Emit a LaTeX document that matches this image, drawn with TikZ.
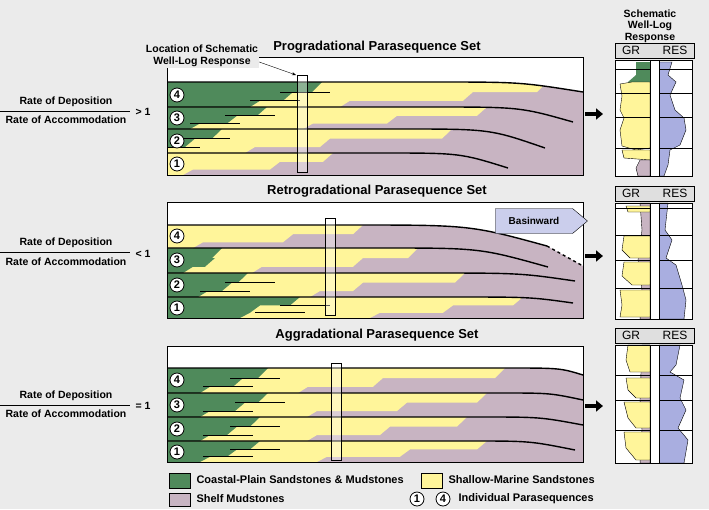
\documentclass[tikz,border=0pt]{standalone}
\usepackage{fontspec}
\setmainfont{Liberation Sans}
\usetikzlibrary{shapes.arrows,arrows.meta}
\definecolor{bg}{HTML}{EBEBEB}
\definecolor{cgreen}{HTML}{4F8A5B}
\definecolor{cyel}{HTML}{FFF59A}
\definecolor{cpur}{HTML}{C8B4C2}
\definecolor{cres}{HTML}{A9AEE0}
\newcommand\fac[6]{\fill[#1] (167,#2) -- (#6,#2) -- ({#6-10},{#2+(#3-#2)*0.4}) -- (#5,{#2+(#3-#2)*0.4}) -- ({#5-10},{#2+(#3-#2)*0.75}) -- (#4,{#2+(#3-#2)*0.75}) -- ({#4-10},#3) -- (167,#3) -- cycle;}
\newcommand\tng[4]{\draw[line width=0.8pt] ({#4-25},{#1+(#2-#1)*0.4}) -- ({#4+25},{#1+(#2-#1)*0.4}); \draw[line width=0.8pt] ({#3-25},{#1+(#2-#1)*0.75}) -- ({#3+25},{#1+(#2-#1)*0.75});}
\begin{document}
\begin{tikzpicture}[x=1pt,y=-1pt,
  ttl/.style={font=\bfseries\fontsize{13}{14}\selectfont},
  lbl/.style={font=\bfseries\fontsize{10.5}{12}\selectfont},
  leg/.style={font=\bfseries\fontsize{11}{13}\selectfont,anchor=west},
  pc/.style={circle,draw,thick,fill=white,inner sep=0pt,minimum size=14pt,font=\bfseries\fontsize{11}{11}\selectfont},
  box/.style={draw,line width=1pt},
  well/.style={draw,line width=0.7pt,fill=white,fill opacity=0.35},
  surf/.style={line width=1.4pt},
  lg/.style={font=\fontsize{12}{12}\selectfont},
  bigarr/.style={-{Triangle[length=7pt,width=11pt]},line width=4pt}]
\useasboundingbox (0,0) rectangle (709,509);
\fill[bg] (0,0) rectangle (709,509);

% ---------- Panel 1 ----------
\node[ttl] (t1) at (377,47) {Progradational Parasequence Set};
\fill[white] (167,57) rectangle (583,175);
\begin{scope}
\clip (167,82) -- (430,82) .. controls (520,82) .. (583,92) -- (583,175) -- (167,175) -- cycle;
\fill[cpur] (160,70) rectangle (590,180);
\fac{cyel}{153}{175}{193}{280}{333}
\fac{cyel}{129}{153}{255}{330}{452}
\fac{cgreen}{129}{153}{160}{195}{222}
\tng{129}{153}{175}{205}
\fac{cyel}{107}{129}{313}{397}{487}
\fac{cgreen}{107}{129}{200}{237}{267}
\tng{107}{129}{215}{250}
\fac{cyel}{82}{107}{350}{473}{547}
\fac{cgreen}{82}{107}{260}{293}{322}
\tng{82}{107}{275}{305}
\end{scope}
\draw[surf] (167,82) -- (430,82) .. controls (520,82) .. (583,92);
\draw[surf] (167,107) -- (430,107) .. controls (520,107) .. (573,122);
\draw[surf] (167,129) -- (400,129) .. controls (490,129) .. (545,148);
\draw[surf] (167,153) -- (380,153) .. controls (460,153) .. (508,168);
\draw[box] (167,57) rectangle (583,175);
\draw[well] (297,75) rectangle (307,172);
\node[pc] (a4) at (177,95) {4};
\node[pc] (a3) at (177,118) {3};
\node[pc] (a2) at (177,141) {2};
\node[pc] (a1) at (177,164) {1};
\node[lbl,fill=bg,align=center,inner sep=1pt] (loc) at (202,56) {Location of Schematic\\Well-Log Response};
\coordinate (locend) at (296,75);
\draw[-{Stealth[length=4pt]},thin] (loc.east) ++(0,6) -- (locend);
\node[lbl] (r1a) at (66,102) {Rate of Deposition};
\node[lbl] (r1b) at (66,120) {Rate of Accommodation};
\draw[thick] (0,111) -- (r1b.east |- 0,111);
\node[lbl] (g1) at (143,112) {> 1};
\coordinate (ar1s) at (585,114); \coordinate (ar1e) at (603,114);
\draw[bigarr] (ar1s) -- (ar1e);

% ---------- Panel 2 ----------
\node[ttl] (t2) at (377,191) {Retrogradational Parasequence Set};
\fill[white] (167,202) rectangle (583,318);
\begin{scope}
\clip (167,225) -- (350,225) .. controls (470,225) .. (547,246) -- (583,266) -- (583,318) -- (167,318) -- cycle;
\fill[cpur] (160,215) rectangle (590,320);
\fac{cyel}{297}{318}{380}{453}{523}
\fac{cgreen}{297}{318}{250}{260}{300}
\tng{297}{318}{280}{305}
\fac{cyel}{273}{297}{320}{363}{465}
\fac{cgreen}{273}{297}{208}{232}{248}
\tng{273}{297}{225}{250}
\fac{cyel}{248}{273}{262}{363}{418}
\fac{cgreen}{248}{273}{193}{215}{222}
\fac{cyel}{225}{248}{203}{293}{363}
\end{scope}
\draw[surf] (167,225) -- (350,225) .. controls (470,225) .. (547,246);
\draw[surf,dashed] (547,246) -- (583,266);
\draw[surf] (167,248) -- (380,248) .. controls (480,248) .. (548,267);
\draw[surf] (167,273) -- (420,273) .. controls (520,273) .. (575,281);
\draw[surf] (167,297) -- (450,297) .. controls (530,297) .. (573,303);
\draw[box] (167,202) rectangle (583,318);
\draw[well] (325,218) rectangle (335,315);
\node[single arrow,draw,thin,fill=cres!60,minimum height=92pt,minimum width=25pt,single arrow head extend=0pt,single arrow tip angle=80,inner sep=1pt,font=\bfseries\fontsize{10}{10}\selectfont] (basin) at (534,221) {Basinward\hspace{14pt}};
\node[pc] (b4) at (177,236) {4};
\node[pc] (b3) at (177,260) {3};
\node[pc] (b2) at (177,285) {2};
\node[pc] (b1) at (177,308) {1};
\node[lbl] (r2a) at (66,243) {Rate of Deposition};
\node[lbl] (r2b) at (66,262) {Rate of Accommodation};
\draw[thick] (0,252) -- (r2b.east |- 0,252);
\node[lbl] (g2) at (143,254) {< 1};
\coordinate (ar2s) at (585,256); \coordinate (ar2e) at (603,256);
\draw[bigarr] (ar2s) -- (ar2e);

% ---------- Panel 3 ----------
\node[ttl] (t3) at (377,335) {Aggradational Parasequence Set};
\fill[white] (167,346) rectangle (583,462);
\begin{scope}
\clip (167,368) -- (505,368) .. controls (560,368) .. (583,375) -- (583,462) -- (167,462) -- cycle;
\fill[cpur] (160,360) rectangle (590,465);
\fac{cyel}{441}{462}{327}{410}{487}
\fac{cgreen}{441}{462}{210}{237}{260}
\tng{441}{462}{228}{255}
\fac{cyel}{417}{441}{317}{390}{467}
\fac{cgreen}{417}{441}{210}{237}{260}
\tng{417}{441}{228}{255}
\fac{cyel}{393}{417}{317}{407}{487}
\fac{cgreen}{393}{417}{210}{245}{268}
\tng{393}{417}{228}{260}
\fac{cyel}{368}{393}{308}{383}{505}
\fac{cgreen}{368}{393}{210}{243}{268}
\tng{368}{393}{228}{255}
\end{scope}
\draw[surf] (167,368) -- (505,368) .. controls (560,368) .. (583,375);
\draw[surf] (167,393) -- (500,393) .. controls (550,393) .. (583,400);
\draw[surf] (167,417) -- (480,417) .. controls (540,417) .. (583,425);
\draw[surf] (167,441) -- (470,441) .. controls (530,441) .. (575,450);
\draw[box] (167,346) rectangle (583,462);
\draw[well] (331,363) rectangle (341,460);
\node[pc] (c4) at (177,380) {4};
\node[pc] (c3) at (177,405) {3};
\node[pc] (c2) at (177,429) {2};
\node[pc] (c1) at (177,452) {1};
\node[lbl] (r3a) at (66,396) {Rate of Deposition};
\node[lbl] (r3b) at (66,414) {Rate of Accommodation};
\draw[thick] (0,405) -- (r3b.east |- 0,405);
\node[lbl] (g3) at (143,406) {= 1};
\coordinate (ar3s) at (585,406); \coordinate (ar3e) at (603,406);
\draw[bigarr] (ar3s) -- (ar3e);

% ---------- Legend ----------
\draw[thick,fill=cgreen] (169,473) rectangle (190,488);
\node[leg] (l1) at (193,480) {Coastal-Plain Sandstones \& Mudstones};
\draw[thick,fill=cyel] (421,473) rectangle (442,488);
\node[leg] (l2) at (445,480) {Shallow-Marine Sandstones};
\draw[thick,fill=cpur] (169,493) rectangle (190,506);
\node[leg] (l3) at (193,499) {Shelf Mudstones};
\node[pc] (lc1) at (417,499) {1};
\node[pc] (lc4) at (443,499) {4};
\node[leg] (l4) at (455,499) {Individual Parasequences};

% ---------- Well logs ----------
\node[lbl,align=center,font=\bfseries\fontsize{10.5}{11.5}\selectfont] (wt) at (650,26) {Schematic\\Well-Log\\Response};
% log 1
\draw[thick,fill=gray!25] (615,43) rectangle (694,58);
\node[lg] (gr1) at (631,50.5) {GR}; \node[lg] (res1) at (675,50.5) {RES};
\draw[thick,fill=white] (615,60) rectangle (692,176);
\fill[cgreen] (636,62) -- (650,62) -- (650,92) -- (632,92) -- (628,82) -- (636,75) -- cycle;
\fill[cyel,draw=black,thin] (650,82) -- (650,148) -- (636,150) -- (622,146) -- (620,130) -- (624,118) -- (620,110) -- (622,96) -- (620,84) -- (632,82) -- cycle;
\fill[cyel,draw=black,thin] (650,150) -- (622,150) -- (624,158) -- (650,160) -- cycle;
\fill[cpur,draw=black,thin] (650,160) -- (650,176) -- (638,176) -- (636,168) -- (640,160) -- cycle;
\fill[cres,draw=black,thin] (659,62) -- (672,62) -- (668,75) -- (676,82) -- (670,95) -- (675,110) -- (684,118) -- (686,130) -- (680,145) -- (670,150) -- (668,165) -- (664,176) -- (659,176) -- cycle;
\foreach \yy in {69,93,117,148} \draw[thin] (615,\yy) -- (692,\yy);
\fill[white] (650,60) rectangle (659,176);
\draw[thin] (650,60) -- (650,176) (659,60) -- (659,176);
\draw[thick] (615,60) rectangle (692,176);
% log 2
\draw[thick,fill=gray!25] (615,186) rectangle (694,201);
\node[lg] (gr2) at (631,193.5) {GR}; \node[lg] (res2) at (675,193.5) {RES};
\draw[thick,fill=white] (615,203) rectangle (692,319);
\fill[cpur,draw=black,thin] (650,203) -- (640,203) -- (642,230) -- (638,260) -- (642,290) -- (640,319) -- (650,319) -- cycle;
\fill[cyel,draw=black,thin] (650,206) -- (626,206) -- (628,212) -- (650,212) -- cycle;
\fill[cyel,draw=black,thin] (650,236) -- (624,236) -- (622,250) -- (630,258) -- (650,258) -- cycle;
\fill[cyel,draw=black,thin] (650,262) -- (624,262) -- (622,276) -- (632,285) -- (650,285) -- cycle;
\fill[cyel,draw=black,thin] (650,290) -- (620,290) -- (622,305) -- (620,317) -- (650,317) -- cycle;
\fill[cres,draw=black,thin] (659,203) -- (668,203) -- (665,230) -- (672,240) -- (666,258) -- (676,265) -- (682,285) -- (686,300) -- (684,319) -- (659,319) -- cycle;
\foreach \yy in {208,235,260,288} \draw[thin] (615,\yy) -- (692,\yy);
\fill[white] (650,203) rectangle (659,319);
\draw[thin] (650,203) -- (650,319) (659,203) -- (659,319);
\draw[thick] (615,203) rectangle (692,319);
% log 3
\draw[thick,fill=gray!25] (615,328) rectangle (694,343);
\node[lg] (gr3) at (631,335.5) {GR}; \node[lg] (res3) at (675,335.5) {RES};
\draw[thick,fill=white] (615,345) rectangle (692,463);
\fill[cpur,draw=black,thin] (650,345) -- (642,345) -- (640,400) -- (642,430) -- (640,463) -- (650,463) -- cycle;
\fill[cyel,draw=black,thin] (650,345) -- (628,345) -- (626,360) -- (630,372) -- (650,372) -- cycle;
\fill[cyel,draw=black,thin] (650,378) -- (626,378) -- (628,390) -- (636,398) -- (650,398) -- cycle;
\fill[cyel,draw=black,thin] (650,402) -- (624,402) -- (628,418) -- (636,428) -- (650,428) -- cycle;
\fill[cyel,draw=black,thin] (650,432) -- (624,432) -- (626,448) -- (636,460) -- (650,460) -- cycle;
\fill[cres,draw=black,thin] (659,345) -- (680,345) -- (676,365) -- (670,372) -- (684,380) -- (680,398) -- (686,410) -- (678,428) -- (688,440) -- (684,463) -- (659,463) -- cycle;
\foreach \yy in {375,400,430} \draw[thin] (615,\yy) -- (692,\yy);
\fill[white] (650,345) rectangle (659,463);
\draw[thin] (650,345) -- (650,463) (659,345) -- (659,463);
\draw[thick] (615,345) rectangle (692,463);
\end{tikzpicture}
\end{document}
